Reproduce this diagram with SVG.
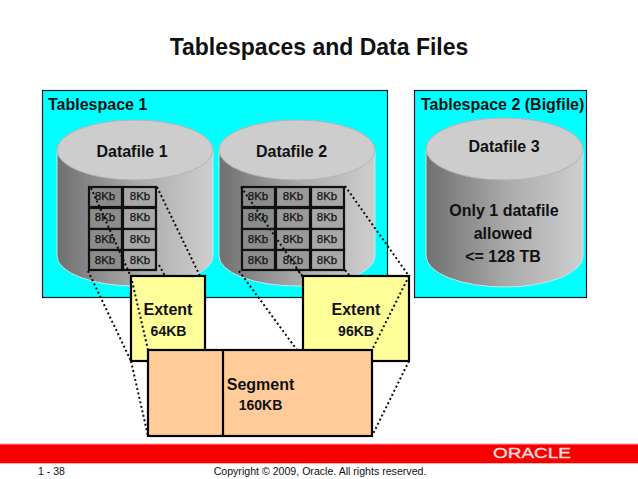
<svg xmlns="http://www.w3.org/2000/svg" width="638" height="479" viewBox="0 0 638 479">
<style>
text{font-family:"Liberation Sans",Arial,sans-serif;fill:#111}
.b{font-weight:bold}
.ts{fill:#00ffff;stroke:#06202a;stroke-width:1.2}
.top{fill:#cdcdcd;stroke:#b4b4b4;stroke-width:1}
.body{fill:url(#g);stroke:#c4e8e8;stroke-width:1}
.cell{stroke:#111;stroke-width:2.2}
.c1{fill:#8c8c8c}.c2{fill:#9a9a9a}.c3{fill:#a8a8a8}
.ct{font-size:11.5px;text-anchor:middle;stroke:#111;stroke-width:.25}
.dot{fill:none;stroke:#0c0c0c;stroke-width:2;stroke-dasharray:2 2.6}
.box{stroke:#000;stroke-width:2.2}
.lab{font-size:16px;font-weight:bold;text-anchor:middle}
.big{font-size:16px;font-weight:bold;text-anchor:middle}
.sub{font-size:14px;font-weight:bold;text-anchor:middle}
</style>
<defs>
<linearGradient id="g" x1="0" x2="1" y1="0" y2="0">
<stop offset="0" stop-color="#707070"/><stop offset="0.55" stop-color="#adadad"/><stop offset="1" stop-color="#cecece"/>
</linearGradient>
</defs>
<rect width="638" height="479" fill="#fff"/>
<text x="319" y="55" class="b" font-size="23" text-anchor="middle">Tablespaces and Data Files</text>

<g id="tablespace1">
<rect class="ts" x="42.5" y="90.5" width="345" height="207"/>
<text x="48" y="110" class="b" font-size="16">Tablespace 1</text>
</g>
<g id="tablespace2">
<rect class="ts" x="414.5" y="90.5" width="172" height="207"/>
<text x="421" y="110" class="b" font-size="16">Tablespace 2 (Bigfile)</text>
</g>

<g id="datafile1">
<path class="body" d="M57 150V256A78 30 0 0 0 213 256V150Z"/>
<ellipse class="top" cx="135" cy="150" rx="78" ry="30"/>
<text x="132" y="157" class="big">Datafile 1</text>
<g id="blocks1">
<rect class="cell c1" x="89" y="187" width="33" height="20"/>
<rect class="cell c3" x="123" y="187" width="33" height="20"/>
<rect class="cell c1" x="89" y="208" width="33" height="21"/>
<rect class="cell c3" x="123" y="208" width="33" height="21"/>
<rect class="cell c1" x="89" y="229" width="33" height="21"/>
<rect class="cell c3" x="123" y="229" width="33" height="21"/>
<rect class="cell c1" x="89" y="250" width="33" height="20"/>
<rect class="cell c3" x="123" y="250" width="33" height="20"/>
<text class="ct" x="105" y="200">8Kb</text><text class="ct" x="140" y="200">8Kb</text>
<text class="ct" x="105" y="221">8Kb</text><text class="ct" x="140" y="221">8Kb</text>
<text class="ct" x="105" y="243">8Kb</text><text class="ct" x="140" y="243">8Kb</text>
<text class="ct" x="105" y="264">8Kb</text><text class="ct" x="140" y="264">8Kb</text>
</g>
</g>

<g id="datafile2">
<path class="body" d="M219 150V256A78 30 0 0 0 375 256V150Z"/>
<ellipse class="top" cx="297" cy="150" rx="78" ry="30"/>
<text x="291.5" y="157" class="big">Datafile 2</text>
<g id="blocks2">
<rect class="cell c1" x="242" y="187" width="33" height="20"/>
<rect class="cell c2" x="276" y="187" width="34" height="20"/>
<rect class="cell c3" x="311" y="187" width="33" height="20"/>
<rect class="cell c1" x="242" y="208" width="33" height="21"/>
<rect class="cell c2" x="276" y="208" width="34" height="21"/>
<rect class="cell c3" x="311" y="208" width="33" height="21"/>
<rect class="cell c1" x="242" y="229" width="33" height="21"/>
<rect class="cell c2" x="276" y="229" width="34" height="21"/>
<rect class="cell c3" x="311" y="229" width="33" height="21"/>
<rect class="cell c1" x="242" y="250" width="33" height="20"/>
<rect class="cell c2" x="276" y="250" width="34" height="20"/>
<rect class="cell c3" x="311" y="250" width="33" height="20"/>
<text class="ct" x="258" y="200">8Kb</text><text class="ct" x="293" y="200">8Kb</text><text class="ct" x="327" y="200">8Kb</text>
<text class="ct" x="258" y="221">8Kb</text><text class="ct" x="293" y="221">8Kb</text><text class="ct" x="327" y="221">8Kb</text>
<text class="ct" x="258" y="243">8Kb</text><text class="ct" x="293" y="243">8Kb</text><text class="ct" x="327" y="243">8Kb</text>
<text class="ct" x="258" y="264">8Kb</text><text class="ct" x="293" y="264">8Kb</text><text class="ct" x="327" y="264">8Kb</text>
</g>
</g>

<g id="datafile3">
<path class="body" d="M426 149V256A78.5 31 0 0 0 583 256V149Z"/>
<ellipse class="top" cx="504.5" cy="149" rx="78.5" ry="31"/>
<text x="504" y="152" class="big">Datafile 3</text>
<text x="504" y="216" class="big">Only 1 datafile</text>
<text x="503" y="239" class="big">allowed</text>
<text x="503" y="262" class="big">&lt;= 128 TB</text>
</g>

<g id="connectors-back">
<path class="dot" d="M91 188L131 277"/>
<path class="dot" d="M157 187L200 276"/>
<path class="dot" d="M159 265L165 276"/>
<path class="dot" d="M88 271L131 361"/>
<path class="dot" d="M241 187L303 277"/>
<path class="dot" d="M239 271L297 350"/>
<path class="dot" d="M296 268L303 277"/>
<path class="dot" d="M345 270L350 276"/>
<path class="dot" d="M345 186L409 276"/>
</g>

<g id="extent1">
<rect class="box" x="131" y="276" width="74" height="85" fill="#ffff99"/>
<text x="168" y="315" class="lab">Extent</text>
<text x="168.500" y="336" class="sub">64KB</text>
</g>
<g id="extent2">
<rect class="box" x="303" y="276" width="106" height="85" fill="#ffff99"/>
<text x="356" y="315" class="lab">Extent</text>
<text x="356" y="336" class="sub">96KB</text>
</g>

<g id="connectors-front">
<path class="dot" d="M132 281L148 350"/>
<path class="dot" d="M409 276L372 350"/>
<path class="dot" d="M131 361L148 436"/>
<path class="dot" d="M409 361L372 436"/>
</g>

<g id="segment">
<rect class="box" x="148" y="350" width="224" height="86" fill="#ffcc99"/>
<line class="box" x1="223" y1="350" x2="223" y2="436"/>
<text x="260.500" y="390" class="lab">Segment</text>
<text x="260.500" y="410" class="sub">160KB</text>
</g>

<g id="footer">
<rect x="0" y="444" width="638" height="19" fill="#f80000"/>
<rect x="0" y="443.500" width="638" height="1" fill="#f6a0a0"/>
<rect x="0" y="463" width="638" height="1" fill="#f8b0b0"/>
<text x="493" y="458" font-size="14" textLength="78" lengthAdjust="spacingAndGlyphs" style="fill:#f5dcdc;stroke:#f5dcdc;stroke-width:.4">ORACLE</text>
<text x="38" y="475" font-size="10.500">1 - 38</text>
<text x="320" y="475" font-size="10.600" text-anchor="middle">Copyright © 2009, Oracle. All rights reserved.</text>
</g>
</svg>
